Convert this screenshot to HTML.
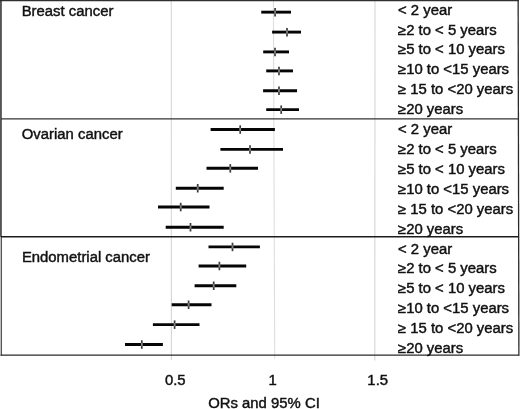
<!DOCTYPE html>
<html><head><meta charset="utf-8"><title>Forest plot</title>
<style>
html,body{margin:0;padding:0;background:#fff;}
body{width:520px;height:409px;overflow:hidden;}
svg{display:block;}
text{font-family:"Liberation Sans",sans-serif;fill:#111;stroke:#111;stroke-width:0.42;}
</style></head><body>
<svg width="520" height="409" viewBox="0 0 520 409">
<rect width="520" height="409" fill="#fff"/>

<line x1="171.3" y1="1" x2="171.4" y2="360" stroke="#d6d6d6" stroke-width="1.1"/>
<line x1="273.4" y1="1" x2="274.7" y2="358.5" stroke="#dedede" stroke-width="1.1"/>
<line x1="375.0" y1="1" x2="374.8" y2="360.5" stroke="#d6d6d6" stroke-width="1.1"/>
<line x1="0" y1="0.6" x2="519" y2="0.6" stroke="#303030" stroke-width="1.2"/>
<line x1="0.6" y1="355.15" x2="519" y2="355.15" stroke="#2a2a2a" stroke-width="1.1"/>
<line x1="0.95" y1="0" x2="0.95" y2="237" stroke="#2a2a2a" stroke-width="1.5"/>
<line x1="1.25" y1="237" x2="1.25" y2="355.7" stroke="#2a2a2a" stroke-width="1.1"/>
<line x1="518.15" y1="0" x2="518.9" y2="355.7" stroke="#2a2a2a" stroke-width="1.3"/>
<line x1="1" y1="118.9" x2="518.5" y2="118.9" stroke="#333" stroke-width="1.1"/>
<line x1="1" y1="236.8" x2="518.5" y2="236.8" stroke="#1c1c1c" stroke-width="1.4"/>
<line x1="261.25" y1="12.15" x2="291" y2="12.15" stroke="#050505" stroke-width="2.9"/>
<line x1="275.1" y1="7.95" x2="275.1" y2="16.45" stroke="#3a3a3a" stroke-width="1.7"/>
<line x1="275.1" y1="10.55" x2="275.1" y2="13.75" stroke="#808080" stroke-width="1.7"/>
<line x1="272.1" y1="32.1" x2="301" y2="32.1" stroke="#050505" stroke-width="2.9"/>
<line x1="287" y1="27.9" x2="287" y2="36.4" stroke="#3a3a3a" stroke-width="1.7"/>
<line x1="287" y1="30.5" x2="287" y2="33.7" stroke="#808080" stroke-width="1.7"/>
<line x1="263.2" y1="51.9" x2="289" y2="51.9" stroke="#050505" stroke-width="2.9"/>
<line x1="275" y1="47.7" x2="275" y2="56.2" stroke="#3a3a3a" stroke-width="1.7"/>
<line x1="275" y1="50.3" x2="275" y2="53.5" stroke="#808080" stroke-width="1.7"/>
<line x1="266.2" y1="70.9" x2="293" y2="70.9" stroke="#050505" stroke-width="2.9"/>
<line x1="279" y1="66.7" x2="279" y2="75.2" stroke="#3a3a3a" stroke-width="1.7"/>
<line x1="279" y1="69.3" x2="279" y2="72.5" stroke="#808080" stroke-width="1.7"/>
<line x1="263.1" y1="90.7" x2="297" y2="90.7" stroke="#050505" stroke-width="2.9"/>
<line x1="279" y1="86.5" x2="279" y2="95.0" stroke="#3a3a3a" stroke-width="1.7"/>
<line x1="279" y1="89.1" x2="279" y2="92.3" stroke="#808080" stroke-width="1.7"/>
<line x1="266.2" y1="109.6" x2="299" y2="109.6" stroke="#050505" stroke-width="2.9"/>
<line x1="281.2" y1="105.4" x2="281.2" y2="113.9" stroke="#3a3a3a" stroke-width="1.7"/>
<line x1="281.2" y1="108.0" x2="281.2" y2="111.2" stroke="#808080" stroke-width="1.7"/>
<line x1="210.6" y1="129.5" x2="274.9" y2="129.5" stroke="#050505" stroke-width="2.9"/>
<line x1="240.2" y1="125.3" x2="240.2" y2="133.8" stroke="#3a3a3a" stroke-width="1.7"/>
<line x1="240.2" y1="127.9" x2="240.2" y2="131.1" stroke="#808080" stroke-width="1.7"/>
<line x1="220.4" y1="149.4" x2="283" y2="149.4" stroke="#050505" stroke-width="2.9"/>
<line x1="250" y1="145.2" x2="250" y2="153.7" stroke="#3a3a3a" stroke-width="1.7"/>
<line x1="250" y1="147.8" x2="250" y2="151.0" stroke="#808080" stroke-width="1.7"/>
<line x1="206.5" y1="168.3" x2="258" y2="168.3" stroke="#050505" stroke-width="2.9"/>
<line x1="230.3" y1="164.1" x2="230.3" y2="172.6" stroke="#3a3a3a" stroke-width="1.7"/>
<line x1="230.3" y1="166.7" x2="230.3" y2="169.9" stroke="#808080" stroke-width="1.7"/>
<line x1="175.8" y1="188.2" x2="223.7" y2="188.2" stroke="#050505" stroke-width="2.9"/>
<line x1="197.7" y1="184.0" x2="197.7" y2="192.5" stroke="#3a3a3a" stroke-width="1.7"/>
<line x1="197.7" y1="186.6" x2="197.7" y2="189.8" stroke="#808080" stroke-width="1.7"/>
<line x1="158" y1="207.0" x2="209.5" y2="207.0" stroke="#050505" stroke-width="2.9"/>
<line x1="180.7" y1="202.8" x2="180.7" y2="211.3" stroke="#3a3a3a" stroke-width="1.7"/>
<line x1="180.7" y1="205.4" x2="180.7" y2="208.6" stroke="#808080" stroke-width="1.7"/>
<line x1="165.7" y1="227.2" x2="223.7" y2="227.2" stroke="#050505" stroke-width="2.9"/>
<line x1="190.5" y1="223.0" x2="190.5" y2="231.5" stroke="#3a3a3a" stroke-width="1.7"/>
<line x1="190.5" y1="225.6" x2="190.5" y2="228.8" stroke="#808080" stroke-width="1.7"/>
<line x1="208.5" y1="246.9" x2="259.9" y2="246.9" stroke="#050505" stroke-width="2.9"/>
<line x1="232.5" y1="242.7" x2="232.5" y2="251.2" stroke="#3a3a3a" stroke-width="1.7"/>
<line x1="232.5" y1="245.3" x2="232.5" y2="248.5" stroke="#808080" stroke-width="1.7"/>
<line x1="198.6" y1="265.95" x2="246.2" y2="265.95" stroke="#050505" stroke-width="2.9"/>
<line x1="219.4" y1="261.75" x2="219.4" y2="270.25" stroke="#3a3a3a" stroke-width="1.7"/>
<line x1="219.4" y1="264.35" x2="219.4" y2="267.55" stroke="#808080" stroke-width="1.7"/>
<line x1="194.6" y1="285.7" x2="236.3" y2="285.7" stroke="#050505" stroke-width="2.9"/>
<line x1="213.7" y1="281.5" x2="213.7" y2="290.0" stroke="#3a3a3a" stroke-width="1.7"/>
<line x1="213.7" y1="284.1" x2="213.7" y2="287.3" stroke="#808080" stroke-width="1.7"/>
<line x1="171.7" y1="304.7" x2="211.5" y2="304.7" stroke="#050505" stroke-width="2.9"/>
<line x1="188.6" y1="300.5" x2="188.6" y2="309.0" stroke="#3a3a3a" stroke-width="1.7"/>
<line x1="188.6" y1="303.1" x2="188.6" y2="306.3" stroke="#808080" stroke-width="1.7"/>
<line x1="152.9" y1="324.6" x2="199.5" y2="324.6" stroke="#050505" stroke-width="2.9"/>
<line x1="174.6" y1="320.4" x2="174.6" y2="328.9" stroke="#3a3a3a" stroke-width="1.7"/>
<line x1="174.6" y1="323.0" x2="174.6" y2="326.2" stroke="#808080" stroke-width="1.7"/>
<line x1="125" y1="344.5" x2="162.9" y2="344.5" stroke="#050505" stroke-width="2.9"/>
<line x1="141.8" y1="340.3" x2="141.8" y2="348.8" stroke="#3a3a3a" stroke-width="1.7"/>
<line x1="141.8" y1="342.9" x2="141.8" y2="346.1" stroke="#808080" stroke-width="1.7"/>
<text transform="translate(21.7,15.7) scale(1.062,1)" font-size="14">Breast cancer</text>
<text transform="translate(21.8,138.8) scale(1.062,1)" font-size="14">Ovarian cancer</text>
<text transform="translate(21.9,262.3) scale(1.062,1)" font-size="14">Endometrial cancer</text>
<text transform="translate(398.0,15.05) scale(1.062,1)" font-size="14">&lt; 2 year</text>
<text transform="translate(398.0,34.7) scale(1.062,1)" font-size="14">≥2 to &lt; 5 years</text>
<text transform="translate(398.0,54.45) scale(1.062,1)" font-size="14">≥5 to &lt; 10 years</text>
<text transform="translate(398.0,74.2) scale(1.062,1)" font-size="14">≥10 to &lt;15 years</text>
<text transform="translate(398.0,94.05) scale(1.062,1)" font-size="14">≥ 15 to &lt;20 years</text>
<text transform="translate(398.0,114.2) scale(1.062,1)" font-size="14">≥20 years</text>
<text transform="translate(398.0,134.15) scale(1.062,1)" font-size="14">&lt; 2 year</text>
<text transform="translate(398.0,153.85) scale(1.062,1)" font-size="14">≥2 to &lt; 5 years</text>
<text transform="translate(398.0,173.7) scale(1.062,1)" font-size="14">≥5 to &lt; 10 years</text>
<text transform="translate(398.0,193.6) scale(1.062,1)" font-size="14">≥10 to &lt;15 years</text>
<text transform="translate(398.0,213.6) scale(1.062,1)" font-size="14">≥ 15 to &lt;20 years</text>
<text transform="translate(398.0,233.6) scale(1.062,1)" font-size="14">≥20 years</text>
<text transform="translate(398.0,253.8) scale(1.062,1)" font-size="14">&lt; 2 year</text>
<text transform="translate(398.0,273.3) scale(1.062,1)" font-size="14">≥2 to &lt; 5 years</text>
<text transform="translate(398.0,293.2) scale(1.062,1)" font-size="14">≥5 to &lt; 10 years</text>
<text transform="translate(398.0,313.1) scale(1.062,1)" font-size="14">≥10 to &lt;15 years</text>
<text transform="translate(398.0,333.15) scale(1.062,1)" font-size="14">≥ 15 to &lt;20 years</text>
<text transform="translate(398.0,353.05) scale(1.062,1)" font-size="14">≥20 years</text>
<text transform="translate(175.3,384.9) scale(1.062,1)" font-size="14" text-anchor="middle">0.5</text>
<text transform="translate(272.7,384.9) scale(1.062,1)" font-size="14" text-anchor="middle">1</text>
<text transform="translate(377.7,384.9) scale(1.062,1)" font-size="14" text-anchor="middle">1.5</text>
<text transform="translate(264,408.2) scale(1.062,1)" font-size="14" text-anchor="middle">ORs and 95% CI</text>
</svg></body></html>
